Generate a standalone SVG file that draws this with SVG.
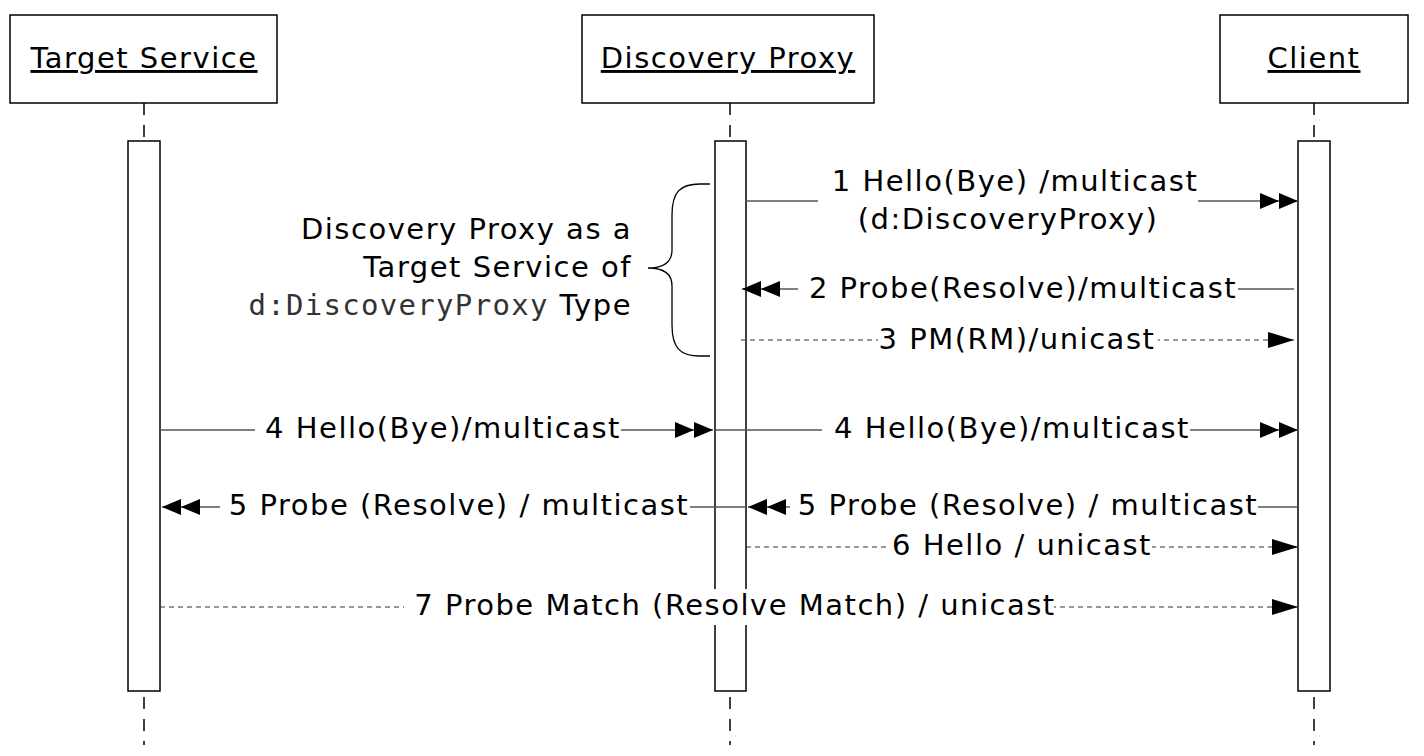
<svg xmlns="http://www.w3.org/2000/svg" width="1424" height="756" viewBox="0 0 1424 756">
<style>
text{font-family:"DejaVu Sans",sans-serif;font-size:29px;letter-spacing:1.5px;fill:#000}
.hd{text-decoration:underline;text-anchor:middle}
.box{fill:#fff;stroke:#000;stroke-width:1.5}
.life{stroke:#000;stroke-width:1.5;stroke-dasharray:12 10}
.s{stroke:#555;stroke-width:1.3;fill:none}
.d{stroke:#333;stroke-width:1.2;stroke-dasharray:5 4;fill:none}
.m{text-anchor:middle}
.mono{font-family:"DejaVu Sans Mono",monospace;fill:#333;letter-spacing:1.3px}
</style>
<defs>
<marker id="dbl" markerWidth="40" markerHeight="20" refX="38" refY="10" orient="auto" markerUnits="userSpaceOnUse"><path d="M0,2 L19,10 L0,18Z M19,2 L38,10 L19,18Z" fill="#000"/></marker>
<marker id="sgl" markerWidth="28" markerHeight="20" refX="26" refY="10" orient="auto" markerUnits="userSpaceOnUse"><path d="M0,2 L26,10 L0,18Z" fill="#000"/></marker>
</defs>
<g id="ts"><line class="life" x1="144" y1="103" x2="144" y2="745"/><rect class="box" x="10" y="15" width="267" height="88"/><text class="hd" x="144" y="68">Target Service</text><rect class="box" x="128" y="141" width="32" height="550"/></g>
<g id="dp"><line class="life" x1="730" y1="103" x2="730" y2="745"/><rect class="box" x="582" y="15" width="292" height="88"/><text class="hd" x="728" y="68">Discovery Proxy</text><rect class="box" x="715" y="141" width="31" height="550"/></g>
<g id="cl"><line class="life" x1="1314" y1="103" x2="1314" y2="745"/><rect class="box" x="1220" y="15" width="188" height="88"/><text class="hd" x="1314" y="68">Client</text><rect class="box" x="1298" y="141" width="32" height="550"/></g>
<g id="note"><path d="M710,184 H700 C680,184 672,192 672,215 V250 C672,262 664,268 648,268 C664,268 672,274 672,286 V325 C672,348 680,356 700,356 H710" fill="none" stroke="#000" stroke-width="1.3"/>
<text x="632" y="239" text-anchor="end">Discovery Proxy as a</text>
<text x="632" y="277" text-anchor="end">Target Service of</text>
<text x="632" y="315" text-anchor="end"><tspan class="mono">d:DiscoveryProxy</tspan> Type</text></g>
<g id="connectors">
<path class="s" d="M746,201 H818 M1198,201 H1298" marker-end="url(#dbl)"/>
<text class="m" x="1015" y="191">1 Hello(Bye) /multicast</text>
<text class="m" x="1008" y="229">(d:DiscoveryProxy)</text>
<path class="s" d="M1294,289 H1238 M798,289 H742" marker-end="url(#dbl)"/>
<text class="m" x="1023" y="298">2 Probe(Resolve)/multicast</text>
<path class="d" d="M741,340 H1294" marker-end="url(#sgl)"/>
<rect x="878" y="322" width="280" height="36" fill="#fff"/>
<text class="m" x="1017" y="349">3 PM(RM)/unicast</text>
<path class="s" d="M160,430 H713" marker-end="url(#dbl)"/>
<rect x="255" y="412" width="366" height="36" fill="#fff"/>
<text class="m" x="443" y="438">4 Hello(Bye)/multicast</text>
<path class="s" d="M716,430 H1298" marker-end="url(#dbl)"/>
<rect x="822" y="412" width="368" height="36" fill="#fff"/>
<text class="m" x="1012" y="438">4 Hello(Bye)/multicast</text>
<path class="s" d="M746,507 H162" marker-end="url(#dbl)"/>
<rect x="220" y="489" width="470" height="36" fill="#fff"/>
<text class="m" x="459" y="515">5 Probe (Resolve) / multicast</text>
<path class="s" d="M1298,507 H748" marker-end="url(#dbl)"/>
<rect x="790" y="489" width="468" height="36" fill="#fff"/>
<text class="m" x="1028" y="515">5 Probe (Resolve) / multicast</text>
<path class="d" d="M746,547 H1298" marker-end="url(#sgl)"/>
<rect x="890" y="529" width="262" height="36" fill="#fff"/>
<text class="m" x="1022" y="555">6 Hello / unicast</text>
<path class="d" d="M160,607 H1298" marker-end="url(#sgl)"/>
<rect x="404" y="589" width="650" height="36" fill="#fff"/>
<text class="m" x="735" y="615">7 Probe Match (Resolve Match) / unicast</text>
</g>
</svg>
